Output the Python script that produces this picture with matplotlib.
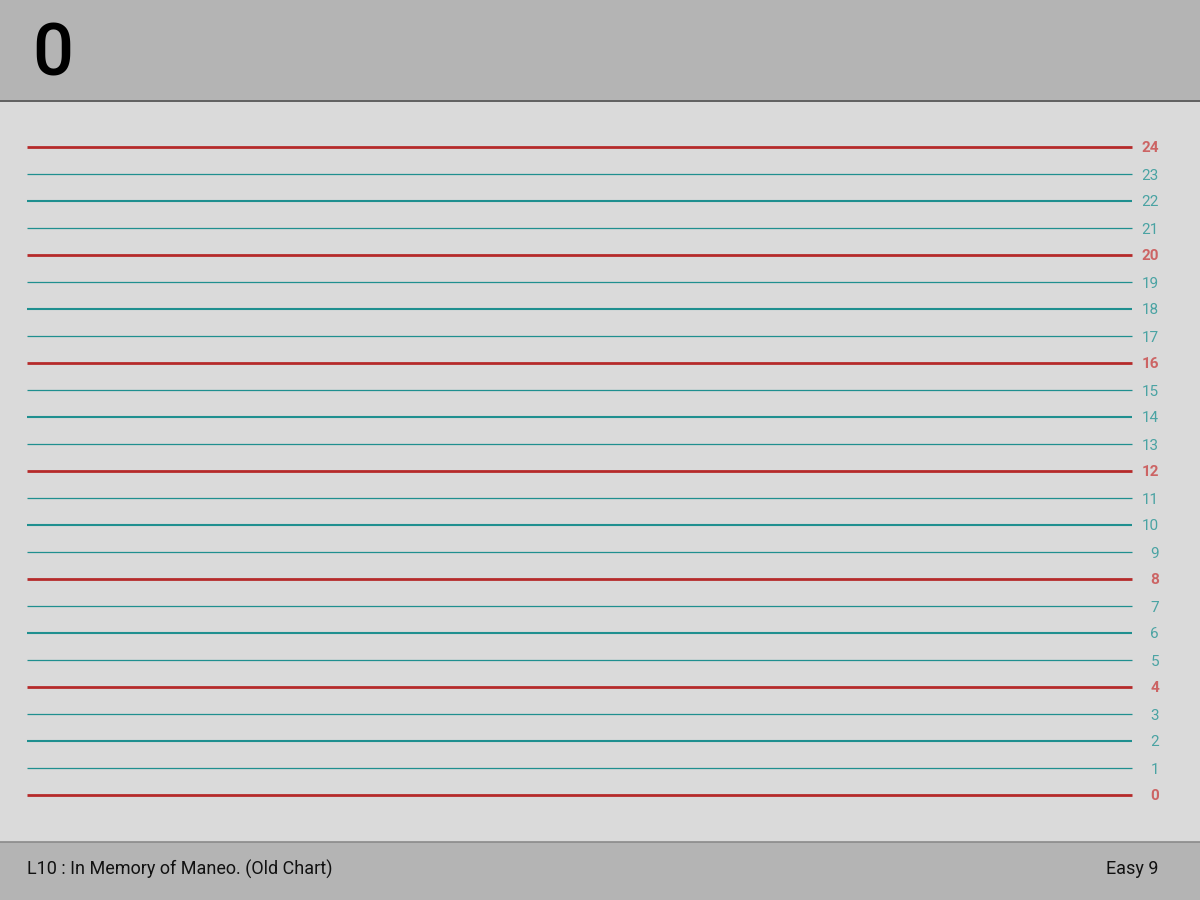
import matplotlib.pyplot as plt
from matplotlib.patches import Rectangle

plt.rcParams['font.family'] = ['Roboto', 'DejaVu Sans']

# chart data
levels = list(range(0, 25))
header_text = '0'
footer_left = 'L10 : In Memory of Maneo. (Old Chart)'
footer_right = 'Easy 9'

red_line = '#b52a2a'
red_text = '#cc6464'
teal_line = '#1f8f8f'
teal_text = '#4aa3a3'

fig = plt.figure(figsize=(12, 9), dpi=100)
fig.patch.set_facecolor('#dadada')

# header and footer bands
fig.add_artist(Rectangle((0, 800/900), 1, 100/900, transform=fig.transFigure,
                         facecolor='#b4b4b4', edgecolor='none', zorder=0))
fig.add_artist(Rectangle((0, 0), 1, 58/900, transform=fig.transFigure,
                         facecolor='#b4b4b4', edgecolor='none', zorder=0))
fig.add_artist(plt.Line2D([0, 1], [799.5/900, 799.5/900], transform=fig.transFigure,
                          color='#4a4a4a', lw=1.2))
fig.add_artist(plt.Line2D([0, 1], [58.5/900, 58.5/900], transform=fig.transFigure,
                          color='#8a8a8a', lw=1.2))

fig.text(32/1200, 1 - 56/900, header_text, fontsize=52, fontweight='medium',
         color='black', ha='left', va='center')
fig.text(27/1200, 1 - 869/900, footer_left, fontsize=13, color='#111111',
         ha='left', va='center')
fig.text(1159/1200, 1 - 869/900, footer_right, fontsize=13, color='#111111',
         ha='right', va='center')

# body axes: 101..841 px from top
ax = fig.add_axes([0, 59/900, 1, 740/900])
ax.set_facecolor('none')
ax.set_xlim(0, 1)
ax.set_ylim((795 - 841) / 27, (795 - 101) / 27)
ax.axis('off')

for v in levels:
    if v % 4 == 0:
        lc, tc, lw, fw = red_line, red_text, 2.0, 'bold'
    elif v % 2 == 0:
        lc, tc, lw, fw = teal_line, teal_text, 1.5, 'normal'
    else:
        lc, tc, lw, fw = teal_line, teal_text, 0.9, 'normal'
    ax.hlines(v, 27/1200, 1132/1200, color=lc, lw=lw)
    ax.text(1159/1200, v, str(v), color=tc, fontsize=11, fontweight=fw,
            ha='right', va='center_baseline')

fig.savefig('out.png', dpi=100, facecolor=fig.get_facecolor())
